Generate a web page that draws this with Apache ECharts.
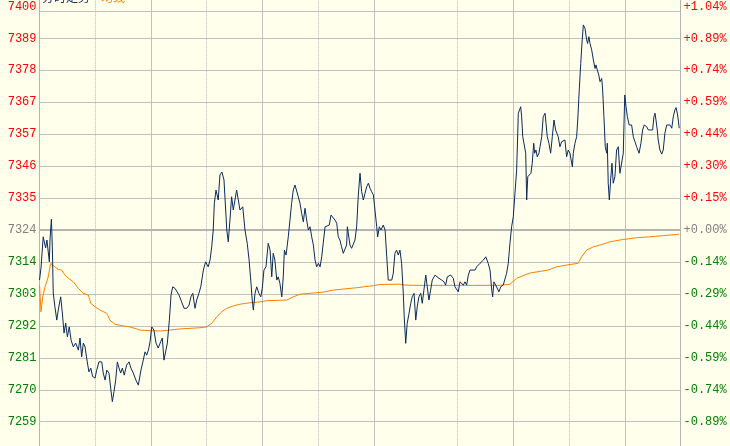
<!DOCTYPE html>
<html>
<head>
<meta charset="utf-8">
<script src="https://cdn.jsdelivr.net/npm/echarts@6/dist/echarts.min.js"></script>
<style>
html,body{margin:0;padding:0;background:#ffffec;}
#chart{width:730px;height:446px;}
</style>
</head>
<body>
<div id="chart"></div>
<script>
// previous close and grid step (percent per horizontal grid line)
const prevClose = 7324.3;
const stepPct = 0.14823;

// tick labels from +7 steps (top) to -7 steps (bottom)
const leftLabels = ['7400','7389','7378','7367','7357','7346','7335','7324','7314','7303','7292','7281','7270','7259','7248'];
const rightLabels = ['+1.04%','+0.89%','+0.74%','+0.59%','+0.44%','+0.30%','+0.15%','+0.00%','-0.14%','-0.29%','-0.44%','-0.59%','-0.74%','-0.89%','-1.04%'];

// time grid (minutes from the open)
const solidTimes = [60, 120, 180, 255, 315];
const dottedTimes = [30, 90, 150, 225, 285];
const sessionMinutes = 345;

// intraday price [minute, price]
const pricePoints = [
[0,7307.3],[0.8,7311.4],[2.0,7322.0],[3.3,7318.2],[4.0,7320.9],[5.3,7313.5],[5.7,7321.6],[6.4,7328.0],[6.9,7318.6],[7.4,7302.9],[8.3,7298.2],[9.3,7293.7],[10.1,7297.1],[11.4,7301.6],[12.3,7296.1],[13.2,7289.3],[14.1,7292.7],[15.0,7288.0],[16.0,7291.4],[17.0,7286.9],[18.2,7284.6],[19.5,7285.9],[20.9,7283.5],[21.8,7287.6],[22.7,7281.2],[23.6,7285.9],[24.5,7284.6],[25.7,7279.5],[26.6,7276.1],[27.6,7277.4],[28.6,7274.5],[29.9,7274.0],[30.8,7276.7],[32.0,7279.5],[33.5,7279.5],[34.3,7275.7],[35.3,7273.3],[36.2,7276.7],[37.4,7275.7],[38.3,7270.6],[39.2,7266.0],[40.1,7269.4],[41.0,7273.3],[41.9,7279.5],[42.8,7277.4],[43.7,7275.7],[44.6,7277.4],[45.6,7275.0],[46.9,7278.4],[48.2,7279.5],[49.2,7277.4],[50.5,7275.7],[51.9,7273.3],[53.2,7271.6],[54.6,7276.7],[55.5,7279.1],[56.8,7282.9],[57.7,7281.8],[58.6,7283.5],[59.5,7286.3],[60.4,7291.4],[61.6,7290.3],[62.7,7285.9],[63.9,7284.2],[65.2,7286.3],[66.1,7287.6],[67.0,7280.1],[67.9,7279.5],[68.8,7285.9],[69.9,7293.7],[70.8,7302.2],[71.7,7305.0],[72.9,7304.5],[73.8,7305.0],[75.1,7302.2],[76.5,7299.9],[77.8,7297.7],[79.2,7297.7],[80.5,7298.8],[81.5,7301.6],[82.5,7302.8],[83.7,7297.7],[84.6,7300.5],[85.8,7302.8],[86.8,7305.0],[88.2,7310.7],[89.4,7313.5],[90.8,7311.8],[91.8,7314.1],[92.7,7318.6],[93.5,7324.3],[94.1,7333.4],[95.0,7337.9],[96.2,7334.5],[97.1,7343.0],[98.2,7344.0],[99.3,7341.3],[100.8,7324.3],[101.6,7320.3],[102.5,7327.7],[103.4,7335.6],[104.3,7331.1],[105.2,7334.5],[106.1,7337.9],[107.0,7334.5],[107.9,7331.1],[109.4,7332.2],[110.6,7324.3],[111.8,7319.8],[112.8,7314.1],[113.7,7307.3],[114.5,7300.5],[115.1,7297.1],[116.0,7302.8],[116.9,7305.0],[118.1,7302.8],[119.1,7301.6],[119.9,7304.5],[120.8,7310.7],[121.9,7311.8],[123.1,7319.8],[124.1,7317.5],[125.0,7308.4],[125.8,7316.4],[126.7,7314.1],[127.7,7307.3],[128.5,7308.4],[129.4,7306.2],[130.4,7301.6],[131.2,7308.4],[131.8,7317.5],[132.7,7315.8],[133.9,7322.0],[134.8,7327.7],[135.7,7333.4],[136.6,7337.9],[137.5,7339.6],[138.4,7340.2],[139.3,7335.6],[140.2,7333.4],[141.1,7330.0],[142.0,7327.1],[142.9,7331.7],[143.8,7327.7],[144.7,7324.3],[145.6,7325.4],[146.5,7322.0],[147.4,7319.2],[148.3,7314.1],[149.2,7311.8],[150.1,7313.0],[151.0,7311.8],[151.9,7315.2],[152.7,7319.8],[153.7,7325.4],[154.6,7326.0],[156.0,7326.0],[156.9,7329.4],[157.8,7330.0],[159.0,7327.7],[160.0,7326.6],[160.8,7322.0],[161.7,7320.9],[162.6,7318.6],[163.5,7316.4],[164.4,7315.8],[165.3,7319.2],[165.7,7325.4],[166.6,7326.0],[167.1,7319.2],[168.0,7318.1],[168.9,7317.5],[169.8,7320.9],[170.7,7325.4],[171.6,7336.2],[172.5,7343.6],[173.4,7337.3],[174.3,7334.5],[175.2,7336.8],[176.1,7339.0],[177.0,7340.2],[177.9,7338.5],[178.8,7337.3],[179.7,7336.2],[180.6,7335.6],[181.5,7325.4],[182.0,7322.0],[182.9,7325.4],[183.8,7324.3],[185.0,7326.0],[186.0,7324.3],[186.9,7315.2],[187.7,7307.3],[189.6,7307.3],[190.4,7309.6],[191.3,7316.4],[192.2,7317.5],[193.1,7315.8],[194.0,7317.5],[194.9,7313.0],[195.8,7302.8],[196.3,7294.8],[197.1,7285.8],[197.9,7292.6],[198.9,7296.0],[199.8,7299.4],[200.6,7301.6],[201.6,7302.8],[202.5,7293.7],[203.3,7298.2],[204.2,7301.6],[205.2,7302.8],[206.0,7299.4],[206.9,7303.9],[207.9,7309.0],[208.7,7305.0],[209.6,7300.5],[210.5,7303.9],[211.4,7307.3],[212.9,7309.0],[215.0,7307.9],[216.5,7307.3],[217.7,7306.7],[218.6,7305.6],[219.5,7308.4],[221.3,7309.0],[222.7,7307.9],[223.6,7305.0],[225.4,7303.3],[226.3,7306.7],[227.2,7307.3],[228.1,7305.6],[229.0,7306.7],[229.9,7305.6],[230.8,7309.0],[231.7,7310.7],[232.6,7311.3],[234.4,7310.7],[235.3,7311.8],[236.2,7311.3],[237.1,7313.0],[238.9,7314.1],[240.2,7315.2],[241.5,7313.0],[242.5,7310.7],[243.4,7303.9],[243.9,7301.6],[244.6,7306.7],[245.5,7305.6],[247.3,7303.3],[248.2,7305.0],[249.6,7305.6],[251.4,7309.6],[252.3,7313.0],[253.2,7319.8],[254.1,7325.4],[255.0,7328.8],[255.9,7336.8],[256.8,7344.7],[257.4,7357.2],[257.7,7364.0],[259.0,7366.2],[259.5,7362.8],[260.1,7356.0],[260.9,7356.0],[261.7,7350.4],[262.2,7334.5],[262.8,7342.4],[264.5,7343.6],[265.2,7347.0],[266.0,7353.8],[266.5,7350.4],[267.2,7351.5],[267.9,7349.2],[268.8,7350.4],[269.4,7352.6],[270.3,7356.0],[271.1,7362.8],[272.1,7364.0],[272.6,7360.6],[273.3,7356.0],[274.2,7353.8],[275.1,7350.4],[276.0,7356.0],[276.9,7361.7],[277.8,7358.3],[279.2,7356.0],[280.1,7352.6],[281.0,7354.3],[282.8,7354.9],[283.7,7349.2],[284.6,7351.5],[285.5,7350.4],[286.8,7345.8],[287.3,7350.4],[288.2,7353.8],[289.1,7356.0],[289.7,7361.7],[290.5,7371.9],[291.3,7380.9],[292.1,7388.9],[292.7,7394.0],[293.6,7392.8],[294.5,7388.9],[295.0,7387.7],[295.7,7390.0],[296.3,7387.7],[297.2,7385.5],[298.1,7382.1],[299.0,7379.2],[299.5,7380.4],[300.2,7378.7],[301.0,7377.0],[301.7,7374.7],[302.6,7375.8],[303.1,7371.9],[303.8,7362.8],[304.5,7352.6],[305.3,7350.4],[305.6,7353.8],[306.1,7340.2],[306.7,7334.5],[307.4,7341.3],[308.1,7347.0],[308.8,7340.2],[309.7,7342.4],[310.6,7351.5],[311.5,7352.6],[312.4,7343.6],[313.3,7343.6],[314.2,7350.4],[314.6,7360.6],[315.0,7370.2],[315.7,7366.2],[316.4,7362.8],[317.4,7360.0],[318.7,7360.0],[319.6,7356.0],[320.5,7354.3],[321.4,7352.6],[322.7,7350.4],[323.7,7353.8],[324.6,7358.3],[325.5,7360.0],[326.8,7359.4],[327.7,7358.3],[330.0,7358.3],[330.7,7362.8],[331.3,7364.0],[331.8,7361.7],[332.5,7358.3],[333.0,7354.9],[333.9,7351.5],[334.9,7350.1],[335.7,7351.5],[336.6,7357.2],[337.6,7360.0],[339.3,7360.0],[340.3,7358.9],[341.1,7362.8],[342.0,7365.1],[342.6,7365.9],[343.3,7364.0],[343.8,7361.7],[344.3,7358.9]
];

// average price line [minute, price]
const avgPoints = [
[0,7305.6],[0.8,7296.5],[1.7,7301.6],[3.0,7305.0],[4.7,7308.4],[6.0,7313.0],[6.9,7313.2],[8.3,7311.8],[10.1,7310.9],[11.9,7310.7],[13.7,7309.0],[15.5,7307.9],[18.2,7306.7],[20.9,7304.5],[23.6,7302.8],[26.3,7302.2],[27.6,7299.4],[29.9,7298.2],[32.6,7297.1],[36.2,7296.0],[37.9,7293.7],[40.6,7292.3],[44.2,7291.8],[48.7,7291.4],[54.1,7290.3],[59.5,7290.1],[64.9,7290.0],[70.2,7290.3],[75.6,7290.7],[81.0,7290.9],[86.4,7291.1],[90.0,7291.4],[92.7,7292.6],[95.4,7294.8],[98.1,7296.5],[100.8,7297.7],[104.3,7298.5],[107.9,7299.1],[113.3,7299.6],[118.7,7299.9],[122.3,7300.3],[133.0,7300.5],[136.6,7301.6],[140.2,7302.5],[152.7,7303.2],[158.1,7303.9],[170.7,7304.7],[174.3,7305.0],[179.7,7305.4],[183.3,7305.8],[194.0,7305.9],[196.7,7305.6],[201.2,7305.5],[215.6,7305.5],[233.5,7305.5],[247.9,7305.5],[253.2,7305.9],[256.8,7307.9],[264.0,7309.7],[273.8,7310.7],[278.3,7311.8],[283.7,7312.4],[289.9,7313.0],[291.8,7315.2],[294.5,7317.5],[298.1,7318.6],[301.7,7319.2],[307.0,7320.3],[314.2,7321.1],[321.4,7321.7],[328.5,7322.0],[335.7,7322.4],[343.2,7322.8],[344.3,7322.9]
];

const step = prevClose * stepPct / 100;
const stepsUp = 7.2, stepsDown = 7;
const stepPx = 31.95;

const gridColor = '#c0c0c0';
const splitColors = [];
for (let v = -stepsDown; v <= 7; v++) splitColors.push(v === 7 ? 'rgba(0,0,0,0)' : gridColor);

function isInt(v){ return Math.abs(v - Math.round(v)) < 1e-6; }
function labelColor(v){ v = Number(v); return v > 0.5 ? '#ff0000' : (v < -0.5 ? '#008000' : '#808080'); }

const vLines = solidTimes.map(t => ({xAxis: t, lineStyle: {type: 'solid', color: gridColor, width: 1}}))
  .concat(dottedTimes.map(t => ({xAxis: t, lineStyle: {type: [1, 1], color: '#b8b8b8', width: 1}})));
vLines.push({yAxis: prevClose, lineStyle: {type: 'solid', color: '#b4b4b4', width: 2}});

const monoFont = '"Liberation Mono", "DejaVu Sans Mono", monospace';

const chart = echarts.init(document.getElementById('chart'), null, {renderer: 'canvas'});
chart.setOption({
  backgroundColor: '#ffffec',
  animation: false,
  grid: {left: 39.5, right: 49.5, top: 0, height: (stepsUp + stepsDown) * stepPx, outerBoundsMode: 'none', containLabel: false},
  xAxis: {type: 'value', min: 0, max: sessionMinutes, show: false},
  yAxis: [
    {type: 'value', min: prevClose - stepsDown * step, max: prevClose + stepsUp * step, show: false},
    {type: 'value', min: -stepsDown, max: stepsUp, interval: 1, position: 'left',
     axisLine: {show: true, lineStyle: {color: '#b4b4b4', width: 1}},
     axisTick: {show: false},
     axisLabel: {margin: 3, fontFamily: monoFont, fontSize: 12, padding: [3, 0, 0, 0],
       formatter: v => isInt(v) ? leftLabels[7 - Math.round(v)] : '',
       color: labelColor},
     splitLine: {show: true, showMaxLine: false, lineStyle: {color: splitColors, width: 1}}},
    {type: 'value', min: -stepsDown, max: stepsUp, interval: 1, position: 'right',
     axisLine: {show: true, lineStyle: {color: '#b4b4b4', width: 1}},
     axisTick: {show: false},
     axisLabel: {margin: 3, fontFamily: monoFont, fontSize: 12, padding: [3, 0, 0, 0],
       formatter: v => isInt(v) ? rightLabels[7 - Math.round(v)] : '',
       color: labelColor},
     splitLine: {show: false}}
  ],
  graphic: [
    {type: 'line', shape: {x1: 40, y1: 11.5, x2: 680, y2: 11.5}, style: {stroke: gridColor, lineWidth: 1}, silent: true},
    {type: 'text', left: 42, top: -9, style: {text: '分时走势', fill: '#0c2a5a', font: '12px "Noto Sans CJK SC"'}},
    {type: 'text', left: 101, top: -9, style: {text: '均线', fill: '#ff8000', font: '12px "Noto Sans CJK SC"'}}
  ],
  series: [
    {name: '均线', type: 'line', yAxisIndex: 0, data: avgPoints, showSymbol: false, symbol: 'none',
     lineStyle: {color: '#ff8000', width: 1}, z: 3,
     markLine: {silent: true, symbol: 'none', label: {show: false}, z: 1, animation: false, data: vLines}},
    {name: '分时走势', type: 'line', yAxisIndex: 0, data: pricePoints, showSymbol: false, symbol: 'none',
     lineStyle: {color: '#0a2b5c', width: 1}, z: 4}
  ]
});
</script>
</body>
</html>
